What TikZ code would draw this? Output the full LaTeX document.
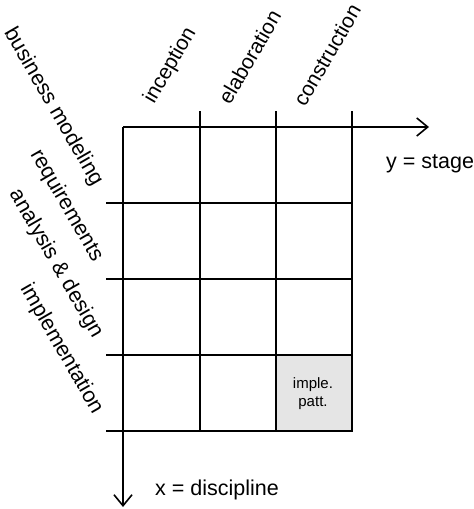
\documentclass[tikz,border=0pt]{standalone}
\usepackage{fontspec}
\setmainfont{Liberation Sans}
\usetikzlibrary{arrows.meta}
\begin{document}
\begin{tikzpicture}[x=1pt,y=-1pt,
  gridline/.style={line width=1.6pt,line cap=rect},
  axis/.style={line width=1.6pt,-{Straight Barb[length=11pt,width=18pt,line width=1.6pt]}},
  biglabel/.style={font=\fontsize{21.5}{25}\selectfont,inner sep=0pt},
  toplabel/.style={biglabel,font=\fontsize{21}{25}\selectfont},
  smalllabel/.style={font=\fontsize{15}{18.5}\selectfont,inner sep=0pt,align=center}]
\useasboundingbox (0,0) rectangle (474,509);
% highlighted cell
\fill[black!10] (276,355) rectangle (352,431);
% grid
\foreach \x in {200,276,352} \draw[gridline] (\x,112) -- (\x,431);
\foreach \y in {203,279,355,431} \draw[gridline] (107,\y) -- (352,\y);
% axes
\coordinate (O) at (123,127);
\coordinate (xend) at (123,507);
\coordinate (yend) at (429,127);
\draw[axis] (O) -- (xend);
\draw[axis] (O) -- (yend);
% stage labels
\node[toplabel,anchor=base west,rotate=60] (inc) at (154,105) {inception};
\node[toplabel,anchor=base west,rotate=60] (ela) at (230,106) {elaboration};
\node[toplabel,anchor=base west,rotate=60] (con) at (305,108) {construction};
% discipline labels
\node[biglabel,anchor=base east,rotate=-60] (bm) at (93,187) {business modeling};
\node[biglabel,anchor=base east,rotate=-60] (req) at (93,263) {requirements};
\node[biglabel,anchor=base east,rotate=-60] (ad) at (93,339) {analysis \& design};
\node[biglabel,anchor=base east,rotate=-60] (impl) at (93,415) {implementation};
% axis labels
\node[biglabel,anchor=base west] (xl) at (155,495) {x = discipline};
\node[biglabel,anchor=base west] (yl) at (386,168) {y = stage};
% cell text
\node[smalllabel] (ip) at (313,393.5) {imple.\\patt.};
\end{tikzpicture}
\end{document}
